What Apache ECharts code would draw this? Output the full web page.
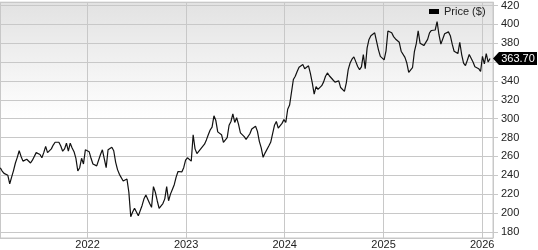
<!DOCTYPE html>
<html>
<head>
<meta charset="utf-8">
<script src="https://cdn.jsdelivr.net/npm/echarts@6/dist/echarts.min.js"></script>
<style>
html,body{margin:0;padding:0;background:#fff;}
#chart{width:538px;height:250px;}
</style>
</head>
<body>
<div id="chart"></div>
<script>
// Weekly closing prices, first week ending 2021-02-12
var startDate = '2021-02-12';
var seriesName = 'Price ($)';
var prices = [
248,244.5,242,241,240,231,238,245,253,259,
266,260,255,256,257,255,253,256,256,264,
265.5,262,258.6,264,270.7,264,265,268,272,275,
274,275,271,265.5,268,274,265.5,274,269,265,
258,244.5,248,258,252,267,265.5,265,258,252,
250,250,251.5,262,267,265.5,248,267,267,269.7,
266,254,246,241,239,234,236,236,222,196,
201,205,203,197,199,208,215,219,218,210,
206,228,222,213,205,206,210,215,228,213,
220,225,230,238,244,242,243.5,248,256,258.5,
258,255,283,268,263,263,268,266,273,277.5,
283,288,291,303,298,286,285.7,283,275,277,
280,293,297,305,296,301,294,285,283,281,
278,279,284,289,290,292,286.5,276,269,259,
263.5,263,271,275,284,293,297,290,292,295,
299,296,310,314.4,313,341.5,345,350,354.5,356,
357.4,353,354,356,348,338,326,334,331,333,
335,339,345,348.5,345.5,343.4,341,338.8,339.8,340,
333,331,329,338,352,359,363,365.5,360.5,355.3,
352,355,368,353,375,384,388,387.5,391,382,
373,366,365,362.3,372,393,392.5,391,387,384.5,
386.5,381,371.5,370,365,359,349,347,354,371,
379.5,393,380,382,377.5,379,384,391,393.5,392,
394,403,389,379,381,390,392,392,388,379,
371.5,370,369,381,368,359,356.3,362,368,369.5,
360,355,354.6,353,350,366,358,369,360,363.7
];
var lastPriceLabel = '363.70';
var xMin = '2021-02-11';
var xMax = '2026-02-10';
var yMin = 173.5;
var yMax = 423.5;
var yStep = 20;

var DAY = 86400000;
var t0 = new Date(startDate + 'T00:00:00Z').getTime();
var data = prices.map(function (v, i) { return [t0 + i * 7 * DAY, v]; });
var lastVal = prices[prices.length - 1];
var xMaxT = new Date(xMax + 'T00:00:00Z').getTime();

var chart = echarts.init(document.getElementById('chart'), null, {renderer: 'canvas'});
var font = 'Liberation Sans, Arial, Helvetica, sans-serif';
chart.setOption({
  animation: false,
  grid: {
    left: 0, right: 45, top: 1, bottom: 10.5,
    show: true,
    borderColor: '#c8c8c8',
    borderWidth: 1,
    backgroundColor: {
      type: 'linear', x: 0, y: 0, x2: 0, y2: 1,
      colorStops: [
        {offset: 0, color: '#e2e2e2'},
        {offset: 0.5, color: '#ffffff'},
        {offset: 1, color: '#ffffff'}
      ]
    }
  },
  legend: {
    data: [{name: seriesName, icon: 'rect'}],
    left: 429, top: 6,
    itemWidth: 10, itemHeight: 5, itemGap: 5,
    padding: 0,
    textStyle: {fontFamily: font, fontSize: 11, color: '#222', padding: [0, 0, 0, 0]}
  },
  xAxis: {
    type: 'time',
    min: xMin, max: xMax,
    splitNumber: 5,
    minInterval: 365 * DAY,
    axisLine: {show: false},
    axisTick: {show: false},
    splitLine: {show: true, lineStyle: {color: '#c8c8c8', width: 1}},
    axisLabel: {
      formatter: '{yyyy}',
      fontFamily: font, fontSize: 11, color: '#222',
      margin: 1,
      showMinLabel: false, showMaxLabel: false
    }
  },
  yAxis: {
    type: 'value',
    position: 'right',
    min: yMin, max: yMax,
    splitNumber: 12,
    minInterval: yStep, maxInterval: yStep,
    axisLine: {show: true, lineStyle: {color: '#c8c8c8'}},
    axisTick: {show: true, length: 5, lineStyle: {color: '#c8c8c8'}},
    splitLine: {show: true, lineStyle: {color: '#c8c8c8', width: 1}},
    axisLabel: {
      fontFamily: font, fontSize: 11, color: '#222',
      margin: 8,
      showMinLabel: false, showMaxLabel: false
    }
  },
  series: [{
    name: seriesName,
    type: 'line',
    data: data,
    symbol: 'none',
    color: '#000',
    lineStyle: {color: '#111', width: 1.2},
    markPoint: {
      silent: true,
      data: [{
        coord: [xMaxT, lastVal],
        symbol: 'path://M0,6 L6,0 L44,0 L44,12 L6,12 Z',
        symbolSize: [44, 13],
        symbolOffset: [22, 0],
        itemStyle: {color: '#000'},
        label: {
          show: true, position: 'inside',
          formatter: lastPriceLabel,
          color: '#fff', fontFamily: font, fontSize: 11,
          offset: [3, 0]
        }
      }]
    }
  }]
});
</script>
</body>
</html>
